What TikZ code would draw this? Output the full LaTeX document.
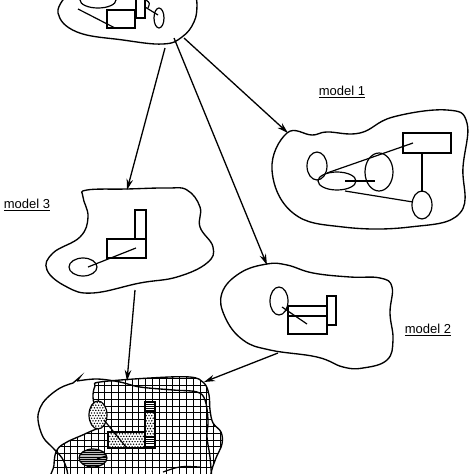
\documentclass[tikz,border=0pt]{standalone}
\usepackage{fontspec}
\setmainfont{Liberation Sans}
\usetikzlibrary{arrows.meta}
\begin{document}
\begin{tikzpicture}[x=1pt,y=-1pt,
  blobline/.style={line width=1.35pt},
  arr/.style={line width=1.3pt,-{Stealth[length=11pt,width=6.5pt]}},
  part/.style={line width=1.2pt},
  lbl/.style={font=\fontsize{13}{15}\selectfont,inner sep=0pt},
  gridline/.style={line width=0.8pt},
  stripe/.style={line width=0.7pt}
]
\useasboundingbox (0,0) rectangle (474,474);
\clip (0,0) rectangle (474,474);

% ---------------- top blob ----------------
\draw[blobline] plot[smooth,tension=0.7] coordinates {(68,-6) (58,13) (77,32) (123,40) (163,44) (182,37) (194,22) (197,5) (195,-6)};
\draw[part] (98,0) ellipse [x radius=18,y radius=8];
\draw[part] (86,-2) arc[start angle=200,end angle=330,radius=7];
\draw[part] (107,10) rectangle (135,28);
\draw[part] (136,-3) rectangle (145,18);
\draw[part] (78,9) -- (115,28);
\draw[part] (145,7) -- (158,15);
\draw[part] (159,18) ellipse [x radius=5,y radius=10];
\draw[part] (146,0) .. controls (150,3) .. (148,8);

% ---------------- model 1 ----------------
\draw[blobline] plot[smooth cycle,tension=0.7] coordinates {(327,132) (360,133) (393,117) (447,110) (467,123) (463,167) (460,213) (410,227) (343,227) (293,213) (272,170) (287,133) (312,135)};
\draw[part] (403,133) rectangle (451,153);
\draw[part] (422,153) -- (422,192);
\draw[part] (422,205) ellipse [x radius=10,y radius=14];
\draw[part] (317,166) ellipse [x radius=10,y radius=14];
\draw[part] (337,181) ellipse [x radius=19,y radius=9];
\draw[part] (379,172) ellipse [x radius=14,y radius=19];
\draw[part] (327,173) -- (413,143);
\draw[part] (345,181) -- (375,181);
\draw[part] (345,191) -- (413,202);
\node[lbl] (m1) at (342,92) {\underline{model 1}};

% ---------------- model 3 ----------------
\draw[blobline] plot[smooth cycle,tension=0.7] coordinates {(87,190) (127,189) (167,188) (187,190) (200,207) (200,227) (213,247) (207,263) (177,277) (140,283) (93,293) (67,287) (47,270) (53,253) (80,237) (88,217) (83,197)};
\draw[part] (135,210) rectangle (146,239);
\draw[part] (107,239) rectangle (146,258);
\draw[part] (83,267) ellipse [x radius=14,y radius=9];
\draw[part] (88,267) -- (136,248);
\node[lbl] (m3) at (27,205) {\underline{model 3}};

% ---------------- model 2 ----------------
\draw[blobline] plot[smooth cycle,tension=0.7] coordinates {(267,264) (287,265) (313,273) (350,277) (380,278) (392,287) (390,313) (393,340) (387,360) (363,368) (343,367) (317,357) (270,350) (243,340) (225,317) (222,293) (240,273)};
\draw[part] (279,301) ellipse [x radius=9,y radius=14];
\draw[part] (327,296) rectangle (336,325);
\draw[part] (288,306) rectangle (327,316);
\draw[part] (288,316) rectangle (327,334);
\draw[part] (282,307) -- (307,324);
\node[lbl] (m2) at (428,330) {\underline{model 2}};

% ---------------- bottom merged blob ----------------
\begin{scope}
  \clip plot[smooth cycle,tension=0.6] coordinates {(100,382) (150,378) (190,377) (204,383) (209,395) (210,410) (213,423) (221,432) (222,444) (216,458) (211,474) (211,495) (150,498) (55,495) (54,465) (57,450) (67,442) (87,433) (103,424) (96,410) (93,397) (95,386)};
  \foreach \gx in {30,36.8,...,240} \draw[gridline] (\gx,372) -- (\gx,480);
  \foreach \gy in {372,378.8,...,480} \draw[gridline] (30,\gy) -- (240,\gy);
\end{scope}
\draw[blobline] plot[smooth cycle,tension=0.6] coordinates {(100,382) (150,378) (190,377) (204,383) (209,395) (210,410) (213,423) (221,432) (222,444) (216,458) (211,474) (211,495) (150,498) (55,495) (54,465) (57,450) (67,442) (87,433) (103,424) (96,410) (93,397) (95,386)};
\draw[blobline] plot[smooth,tension=0.6] coordinates {(68,482) (67,470) (62,458) (53,448) (43,437) (38,420) (40,408) (47,398) (60,388) (73,383)} -- (80,377) -- (77,381)
  plot[smooth,tension=0.6] coordinates {(77,381) (97,379) (120,382) (140,387) (173,390) (197,392) (205,400) (208,420) (207,437) (210,457) (212,482)};
\draw[part] (163,472) .. controls (180,466) .. (200,467);
% white fills of the parts
\fill[white] (98,415) ellipse [x radius=9,y radius=14];
\fill[white] (108,432) rectangle (145,448);
\fill[white] (145,402) rectangle (155,448);
% dots
\begin{scope}
  \clip (98,415) ellipse [x radius=9,y radius=14] (108,432) rectangle (145,448) (145,412) rectangle (155,437);
  \foreach \yy [count=\r] in {400,402.6,...,450} {
    \foreach \xx in {86,88.8,...,158} {
      \fill ({\xx+mod(\r,2)*1.4},\yy) circle (0.8);
    }
  }
\end{scope}
% stripes
\fill[gray!55] (93,458) ellipse [x radius=14,y radius=9];
\begin{scope}
  \clip (145,402) rectangle (155,412) (145,437) rectangle (155,448) (93,458) ellipse [x radius=14,y radius=9];
  \foreach \yy in {402,404.2,...,468} \draw[stripe] (78,\yy) -- (158,\yy);
\end{scope}
\draw[part] (98,415) ellipse [x radius=9,y radius=14];
\draw[part] (108,432) rectangle (145,448);
\draw[part] (145,402) rectangle (155,448);
\draw[part] (145,412) -- (155,412) (145,437) -- (155,437);
\draw[part] (104,420) -- (126,447);
\draw[part] (93,458) ellipse [x radius=14,y radius=9];
\draw[part] (97,459) -- (106,456);

% ---------------- arrows ----------------
\coordinate (s1) at (165,48);  \coordinate (e1) at (127,190);
\coordinate (s2) at (174,38);  \coordinate (e2) at (267,265);
\coordinate (s3) at (184,38);  \coordinate (e3) at (288,133);
\coordinate (s4) at (135,290); \coordinate (e4) at (127,381);
\coordinate (s5) at (278,353); \coordinate (e5) at (204,382);
\draw[arr] (s1) -- (e1);
\draw[arr] (s2) -- (e2);
\draw[arr] (s3) -- (e3);
\draw[arr] (s4) -- (e4);
\draw[arr] (s5) -- (e5);
\end{tikzpicture}
\end{document}
